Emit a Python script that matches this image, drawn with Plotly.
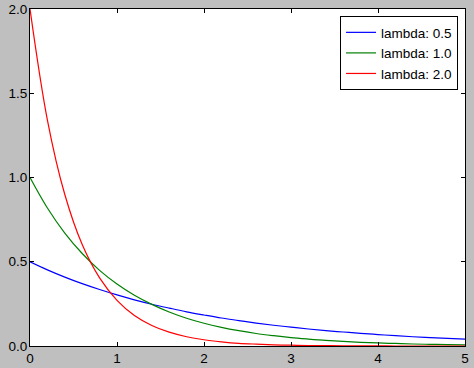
import plotly.graph_objects as go

x_vals = [0.0, 0.2, 0.4, 0.6, 0.8, 1.0, 1.2, 1.4, 1.6, 1.8, 2.0, 2.2, 2.4, 2.6,
          2.8, 3.0, 3.2, 3.4, 3.6, 3.8, 4.0, 4.2, 4.4, 4.6, 4.8, 5.0]

lam_05 = [0.500, 0.452, 0.409, 0.370, 0.335, 0.303, 0.274, 0.248, 0.225, 0.203,
          0.184, 0.166, 0.151, 0.136, 0.123, 0.112, 0.101, 0.091, 0.083, 0.075,
          0.068, 0.061, 0.055, 0.050, 0.045, 0.041]
lam_10 = [1.000, 0.819, 0.670, 0.549, 0.449, 0.368, 0.301, 0.247, 0.202, 0.165,
          0.135, 0.111, 0.091, 0.074, 0.061, 0.050, 0.041, 0.033, 0.027, 0.022,
          0.018, 0.015, 0.012, 0.010, 0.008, 0.007]
lam_20 = [2.000, 1.341, 0.899, 0.602, 0.404, 0.271, 0.181, 0.122, 0.082, 0.055,
          0.037, 0.025, 0.016, 0.011, 0.007, 0.005, 0.003, 0.002, 0.001, 0.001,
          0.001, 0.000, 0.000, 0.000, 0.000, 0.000]

series_names = ["lambda: 0.5", "lambda: 1.0", "lambda: 2.0"]
series_vals = [lam_05, lam_10, lam_20]
colors = ["#0000ff", "#008000", "#ff0000"]

x_ticks = [0, 1, 2, 3, 4, 5]
y_ticks = [0.0, 0.5, 1.0, 1.5, 2.0]

fig = go.Figure()
for name, vals, c in zip(series_names, series_vals, colors):
    fig.add_trace(go.Scatter(x=x_vals, y=vals, mode="lines", name=name,
                             line=dict(color=c, width=1.2, shape="spline", smoothing=1.0)))

tick_font = dict(family="Liberation Sans, Arial, sans-serif", size=13.5, color="black")
axis_common = dict(showgrid=False, zeroline=False, showline=True, linecolor="black",
                   linewidth=1, mirror="allticks", ticks="inside", ticklen=4,
                   tickcolor="black", tickwidth=1, automargin=False,
                   ticklabeloverflow="allow", tickfont=tick_font)

fig.update_layout(
    template="none",
    width=474, height=368,
    margin=dict(l=30, r=9, t=9, b=22, autoexpand=False),
    paper_bgcolor="#bfbfbf", plot_bgcolor="white",
    xaxis=dict(range=[0, 5], tickvals=x_ticks, ticktext=[str(t) for t in x_ticks], **axis_common),
    yaxis=dict(range=[0, 2], tickvals=y_ticks, ticktext=[f"{t:.1f}" for t in y_ticks],
               ticklabelstandoff=-1, **axis_common),
    legend=dict(x=0.984, y=0.979, xanchor="right", yanchor="top",
                bgcolor="white", bordercolor="black", borderwidth=1,
                font=dict(family="Liberation Sans, Arial, sans-serif", size=13.5, color="black"),
                tracegroupgap=0),
    showlegend=True,
)

fig.write_html("out.html", config={"displayModeBar": False},
               post_script="document.body.style.margin='0';document.body.style.background='#bfbfbf';")
